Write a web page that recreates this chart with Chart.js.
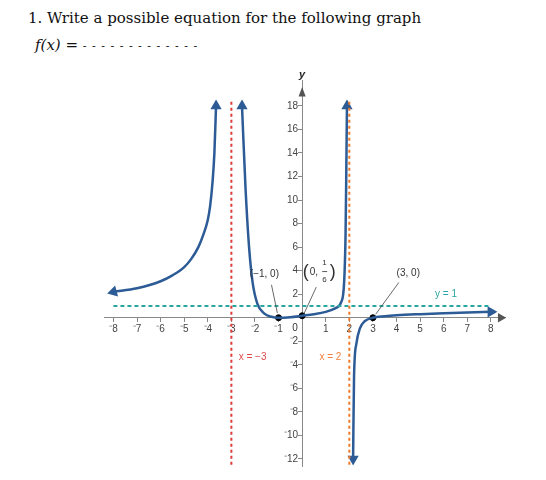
<!DOCTYPE html>
<html>
<head>
<meta charset="utf-8">
<script src="https://cdn.jsdelivr.net/npm/chart.js@4"></script>
<style>
body { margin: 0; background: #fff; }
#wrap { position: relative; width: 546px; height: 480px; }
#q { position: absolute; left: 28px; top: 9px; font: 15px "DejaVu Serif", serif; color: #111; }
#f { position: absolute; left: 35px; top: 36px; font: italic 15px "DejaVu Serif", serif; color: #111; }
canvas { position: absolute; left: 0; top: 0; }
</style>
</head>
<body>
<div id="wrap">
<div id="q">1. Write a possible equation for the following graph</div>
<div id="f">f(x) = <span style="font-style:normal;font-size:11px;letter-spacing:1px">- - - - - - - - - - - - -</span></div>
<canvas id="c" width="546" height="480"></canvas>
</div>
<script>
// values
xTicks = [-8, -7, -6, -5, -4, -3, -2, -1, 1, 2, 3, 4, 5, 6, 7, 8];
yTicks = [-12, -10, -8, -6, -4, -2, 2, 4, 6, 8, 10, 12, 14, 16, 18];

leftX = [-8, -7, -6, -5.5, -5, -4.7, -4.4, -4.2, -4, -3.9, -3.8, -3.72, -3.65];
leftY = [2.2, 2.5, 3.1, 3.6, 4.3, 5.0, 6.0, 7.0, 8.3, 9.5, 11.5, 14, 18];

midX = [-2.55, -2.4, -2.25, -2.1, -1.9, -1.6, -1.3, -1, -0.5, 0, 0.5, 1, 1.4, 1.65, 1.78, 1.84, 1.87, 1.9];
midY = [18, 11, 6, 3, 1.2, 0.35, 0.08, 0, 0.05, 0.17, 0.3, 0.5, 0.8, 1.3, 3, 7, 12, 18];

rightX = [2.16, 2.2, 2.3, 2.45, 2.65, 3, 3.5, 4, 5, 6, 7, 8];
rightY = [-12, -5, -2.2, -0.9, -0.3, 0, 0.12, 0.2, 0.3, 0.38, 0.45, 0.5];

keyX = [-1, 0, 3];
keyY = [0, 1 / 6, 0];

function pts(xs, ys) { return xs.map((x, i) => ({ x: x, y: ys[i] })); }
function ends(n, a, b) {
    var r = []; for (var i = 0; i < n; i++) r.push(i == 0 ? a : (i == n - 1 ? b : 0)); return r;
}
function lab(v) { return v < 0 ? '⁻' + Math.abs(v) : '' + v; }
var blue = '#2c5b96';
function branch(xs, ys, rotA, rotB) {
    var n = xs.length;
    return {
        data: pts(xs, ys), showLine: true, borderColor: blue, backgroundColor: blue, borderWidth: 2.5,
        cubicInterpolationMode: 'monotone',
        pointStyle: 'triangle',
        pointRadius: ends(n, 4, 4),
        pointRotation: ends(n, rotA, rotB)
    };
}

var labelsPlugin = {
    id: 'labels',
    afterDraw(chart) {
        var c = chart.ctx, sx = chart.scales.x, sy = chart.scales.y;
        function px(x) { return sx.getPixelForValue(x); }
        function py(y) { return sy.getPixelForValue(y); }
        c.save();
        c.font = '10px "Liberation Sans", Arial';
        c.fillStyle = '#444'; c.textAlign = 'right'; c.textBaseline = 'middle';
        yTicks.forEach(function (v) { c.fillText(lab(v), px(0) - 4, py(v)); });
        c.fillStyle = '#333'; c.textAlign = 'center';
        c.fillText('(−1, 0)', px(-1.6), py(3.7));
        c.fillText('(3, 0)', px(4.5), py(3.8));
        c.fillText('0', px(-0.3), py(-0.9));
        // (0, 1/6)
        c.fillText('0,', px(0.5), py(3.9));
        c.font = '8px "Liberation Sans", Arial';
        c.fillText('1', px(0.95), py(4.7)); c.fillText('6', px(0.95), py(3.2));
        c.fillRect(px(0.85), py(3.95), 5, 0.8);
        c.font = '18px "Liberation Sans", Arial';
        c.fillText('(', px(0.15), py(3.9)); c.fillText(')', px(1.3), py(3.9));
        c.font = '10px "Liberation Sans", Arial';
        c.fillStyle = '#2aa6a0'; c.fillText('y = 1', px(6.1), py(2));
        c.fillStyle = '#e04a4a'; c.fillText('x = −3', px(-2.1), py(-3.4));
        c.fillStyle = '#f08040'; c.fillText('x = 2', px(1.2), py(-3.4));
        c.fillStyle = '#222'; c.font = 'italic bold 11px "Liberation Sans", Arial';
        c.fillText('y', px(0), py(20.6));
        // leader lines
        c.strokeStyle = '#444'; c.lineWidth = 0.8;
        [[-1.3, 2.8, -1.05, 0.4], [0.6, 2.6, 0.08, 0.35], [4.1, 3, 3.12, 0.3]].forEach(function (l) {
            c.beginPath(); c.moveTo(px(l[0]), py(l[1])); c.lineTo(px(l[2]), py(l[3])); c.stroke();
        });
        // axis arrows
        c.fillStyle = '#555';
        c.beginPath(); c.moveTo(px(8.65), py(0)); c.lineTo(px(8.3), py(0.4)); c.lineTo(px(8.3), py(-0.4)); c.fill();
        c.beginPath(); c.moveTo(px(0), py(19.6)); c.lineTo(px(-0.15), py(18.8)); c.lineTo(px(0.15), py(18.8)); c.fill();
        c.restore();
    }
};

function tickAxis(list, extra, show) {
    return Object.assign({
        type: 'linear',
        afterBuildTicks(s) { s.ticks = list.map(v => ({ value: v })); },
        grid: { drawOnChartArea: false, drawTicks: true, tickLength: 4, color: '#888' },
        border: { color: '#888', width: 1 },
        ticks: { display: show, color: '#444', font: { size: 10, family: '"Liberation Sans", Arial' }, padding: 2,
                 autoSkip: false, maxRotation: 0, callback: lab }
    }, extra);
}

new Chart(document.getElementById('c'), {
    type: 'scatter',
    data: {
        datasets: [
            { data: [{ x: -3, y: -12.5 }, { x: -3, y: 18.5 }], showLine: true, borderColor: '#e03c3c', borderWidth: 2, borderDash: [3, 3], pointRadius: 0 },
            { data: [{ x: 2, y: -12.5 }, { x: 2, y: 18.5 }], showLine: true, borderColor: '#f07a2a', borderWidth: 2, borderDash: [3, 3], pointRadius: 0 },
            { data: [{ x: -8, y: 1 }, { x: 8, y: 1 }], showLine: true, borderColor: '#2aa6a0', borderWidth: 2, borderDash: [4, 3], pointRadius: 0 },
            branch(leftX, leftY, 255, 0),
            branch(midX, midY, 0, 0),
            branch(rightX, rightY, 180, 90),
            { data: pts(keyX, keyY), pointRadius: 3, backgroundColor: '#000', borderColor: '#000' }
        ]
    },
    options: {
        responsive: false, animation: false,
        layout: { padding: { left: 104, right: 41, top: 80, bottom: 14 } },
        plugins: { legend: { display: false }, tooltip: { enabled: false } },
        scales: {
            x: tickAxis(xTicks, { min: -8.4, max: 8.6, position: { y: 0 } }, true),
            y: tickAxis(yTicks, { min: -12.6, max: 20.2, position: { x: 0 } }, false)
        }
    },
    plugins: [labelsPlugin]
});
</script>
</body>
</html>
